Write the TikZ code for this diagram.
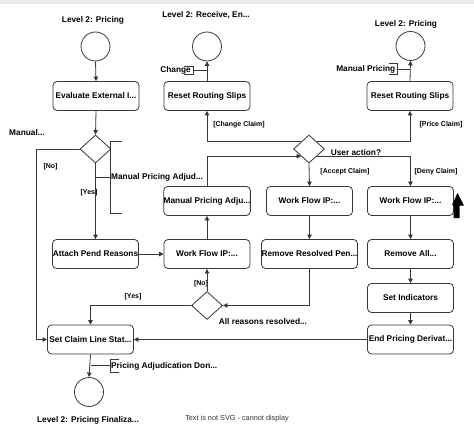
\documentclass[tikz,border=0pt]{standalone}
\usepackage{fontspec}
\setmainfont{Liberation Sans}
\usetikzlibrary{shapes.geometric,arrows.meta}
\tikzset{
  lc/.style={draw=black!78, line width=0.8pt},
  boxn/.style={lc, rounded corners=4pt, fill=white, minimum width=86pt, minimum height=29pt, inner sep=0pt,
    font=\fontsize{8.3}{9}\selectfont\bfseries},
  dian/.style={lc, diamond, fill=white, minimum width=31pt, minimum height=28pt, inner sep=0pt},
  circn/.style={lc, circle, fill=white, minimum size=29pt, inner sep=0pt},
  lbl/.style={font=\fontsize{8.3}{9}\selectfont\bfseries, inner sep=1pt},
  elbl/.style={font=\fontsize{7}{8}\selectfont\bfseries, inner sep=1pt},
  arr/.style={lc, -{Triangle[length=4.5pt,width=4.5pt]}},
  ln/.style={lc, line width=0.7pt}
}
\begin{document}
\begin{tikzpicture}[x=1pt,y=-1pt]
\useasboundingbox (0,0) rectangle (474,425);
\fill[black!8] (0,0) rectangle (474,4);
% start/end circles
\node[circn] (c1) at (95.5,46.5) {};
\node[circn] (c2) at (207,46.5) {};
\node[circn] (c3) at (410.5,46) {};
\node[circn] (c4) at (89,392) {};
% boxes
\node[boxn] (eval) at (96,96) {Evaluate External I...};
\node[boxn] (rr1) at (207,96) {Reset Routing Slips};
\node[boxn] (rr2) at (410,96) {Reset Routing Slips};
\node[boxn] (mpa) at (207,201) {Manual Pricing Adju...};
\node[boxn] (wf2) at (309.5,201) {Work Flow IP:...};
\node[boxn] (wf3) at (410.5,201) {Work Flow IP:...};
\node[boxn] (apr) at (95.5,254) {Attach Pend Reasons};
\node[boxn] (wf1) at (207,254) {Work Flow IP:...};
\node[boxn] (rrp) at (309.5,254) {Remove Resolved Pen...};
\node[boxn] (ra) at (410.5,254) {Remove All...};
\node[boxn] (si) at (410.5,298) {Set Indicators};
\node[boxn] (ep) at (410.5,339.5) {End Pricing Derivat...};
\node[boxn] (sc) at (90.5,339.5) {Set Claim Line Stat...};
% decisions
\node[dian] (d1) at (95.5,149) {};
\node[dian] (d2) at (309,149) {};
\node[dian] (d3) at (207,305.5) {};
% labels
\node[lbl] (t1) at (93,20) {Level 2: Pricing};
\node[lbl] (t2) at (206,15) {Level 2: Receive, En...};
\node[lbl] (t3) at (406,24) {Level 2: Pricing};
\node[lbl] (t4) at (88,420) {Level 2: Pricing Finaliza...};
\node[lbl] (t5) at (27,132.5) {Manual...};
\node[lbl] (t6) at (356,153) {User action?};
\node[lbl] (t7) at (263,322) {All reasons resolved...};
\node[font=\fontsize{7.3}{8}\selectfont, text=black!80, inner sep=0pt] (t8) at (237,419) {Text is not SVG - cannot display};
% edge labels
\node[elbl] (l1) at (239,125) {[Change Claim]};
\node[elbl] (l2) at (441,125) {[Price Claim]};
\node[elbl] (l3) at (50.5,167) {[No]};
\node[elbl] (l4) at (89,193) {[Yes]};
\node[elbl] (l5) at (345,172) {[Accept Claim]};
\node[elbl] (l6) at (436,172) {[Deny Claim]};
\node[elbl] (l7) at (201,284) {[No]};
\node[elbl] (l8) at (133,297) {[Yes]};
% connectors
\draw[arr] (c1.south) -- (eval.north);
\draw[arr] (eval.south) -- (d1.north);
\draw[arr] (rr1.north) -- (c2.south);
\draw[arr] (rr2.north) -- (c3.south);
\coordinate (lcorner) at (36,149);
\draw[arr] (d1.west) -- (lcorner) |- (sc.west);
\draw[arr] (d1.south) -- (apr.north);
\draw[arr] (apr.east) -- (wf1.west);
\draw[arr] (wf1.north) -- (mpa.south);
\draw[arr] (mpa.north) |- (d2.south west);
\draw[arr] (d2.north west) -| (rr1.south);
\draw[arr] (d2.north east) -| (rr2.south);
\draw[arr] (d2.south east) -| (wf3.north);
\draw[arr] (d2.south) -- (wf2.north);
\draw[arr] (wf2.south) -- (rrp.north);
\draw[arr] (wf3.south) -- (ra.north);
\draw[arr] (ra.south) -- (si.north);
\draw[arr] (si.south) -- (ep.north);
\draw[arr] (ep.west) -- (sc.east);
\draw[arr] (rrp.south) |- (d3.east);
\draw[arr] (d3.north) -- (wf1.south);
\draw[arr] (d3.west) -| (sc.north);
\draw[arr] (sc.south) -- (c4.north);
% annotation: Change
\node[lbl, anchor=east] (n1) at (192,70) {Change};
\draw[ln] (184,66) -- (193,66) -- (193,74.5) -- (184,74.5);
\coordinate (n1c) at (193,70);
\draw[ln] (n1c) -- (rr1.north |- n1c);
% annotation: Manual Pricing
\node[lbl, anchor=east] (n2) at (396.5,69) {Manual Pricing};
\draw[ln] (389,63) -- (397,63) -- (397,74.5) -- (389,74.5);
\coordinate (n2c) at (397,69);
\draw[ln] (n2c) -- (rr2.north |- n2c);
% annotation: Manual Pricing Adjud
\node[lbl, anchor=west] (n3) at (110,177) {Manual Pricing Adjud...};
\draw[ln] (122,141) -- (110,141) -- (110,213) -- (122,213);
\coordinate (n3c) at (110,177);
\draw[ln] (n3c) -- (apr.north |- n3c);
% annotation: Pricing Adjudication Done
\node[lbl, anchor=west] (n4) at (110,366) {Pricing Adjudication Don...};
\draw[ln] (119,359) -- (110,359) -- (110,372) -- (119,372);
\coordinate (n4c) at (110,365.5);
\draw[ln] (n4c) -- (sc.south |- n4c);
% cursor
\fill[black] (452,205) -- (457.5,193) -- (464,205.5) -- (459.5,205.5) -- (459.5,218) -- (453.5,218) -- (453.5,205) -- cycle;
\end{tikzpicture}
\end{document}
